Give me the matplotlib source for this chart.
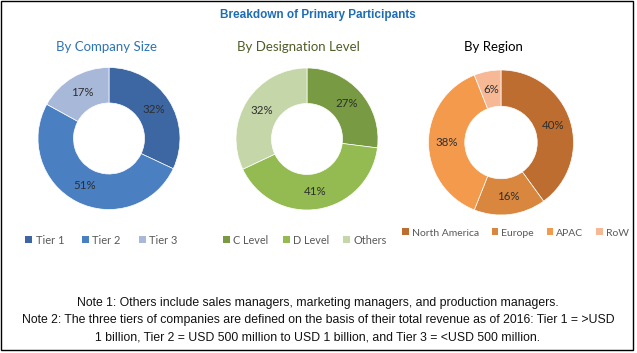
import matplotlib
matplotlib.use("Agg")
import matplotlib.pyplot as plt
from matplotlib import font_manager
from matplotlib.patches import Rectangle, Patch

# ---- data ----
title = "Breakdown of Primary Participants"
size_labels = ["Tier 1", "Tier 2", "Tier 3"]
size_values = [32, 51, 17]
desig_labels = ["C Level", "D Level", "Others"]
desig_values = [27, 41, 32]
region_labels = ["North America", "Europe", "APAC", "RoW"]
region_values = [40, 16, 38, 6]
notes = [
    "Note 1: Others include sales managers, marketing managers, and production managers.",
    "Note 2: The three tiers of companies are defined on the basis of their total revenue as of 2016: Tier 1 = >USD",
    "1 billion, Tier 2 = USD 500 million to USD 1 billion, and Tier 3 = <USD 500 million.",
]

size_colors = ["#3D67A3", "#4A7FC1", "#A8B8D9"]
desig_colors = ["#779A43", "#93BB52", "#C5D6A9"]
region_colors = ["#BD6D2F", "#D9873E", "#F49A4C", "#F7B896"]

names = {f.name for f in font_manager.fontManager.ttflist}
narrow = "Liberation Sans Narrow" if "Liberation Sans Narrow" in names else "Liberation Sans"
soft = "Lato" if "Lato" in names else "DejaVu Sans"

W, H = 637, 353
fig = plt.figure(figsize=(W / 100, H / 100), dpi=100)
fig.patch.set_facecolor("white")

def px_axes(cx, cy, r):
    return fig.add_axes([(cx - r) / W, (H - cy - r) / H, 2 * r / W, 2 * r / H])

def donut(cx, cy, r, values, colors):
    ax = px_axes(cx, cy, r)
    ax.pie(
        values, colors=colors, startangle=90, counterclock=False,
        radius=1.0, wedgeprops=dict(width=0.5, edgecolor="white", linewidth=0.5),
        autopct=lambda p: f"{p:.0f}%", pctdistance=0.75,
        textprops=dict(fontsize=8.3, color="#2e2e2e", family=soft))
    ax.set_xlim(-1, 1)
    ax.set_ylim(-1, 1)
    ax.set_aspect("equal")
    ax.axis("off")
    return ax

donut(109, 138.5, 71, size_values, size_colors)
donut(307, 139, 71, desig_values, desig_colors)
donut(501, 142.5, 72.5, region_values, region_colors)

# titles
fig.text(318 / W, 1 - 15 / H, title, ha="center", va="center", fontsize=8.5,
         fontweight="bold", color="#1F6DB4", family=narrow)
fig.text(106 / W, 1 - 47 / H, "By Company Size", ha="center", va="center",
         fontsize=9.5, color="#2E74B5", family=soft)
fig.text(298 / W, 1 - 47 / H, "By Designation Level", ha="center", va="center",
         fontsize=9.5, color="#4F5E26", family=soft)
fig.text(493 / W, 1 - 47 / H, "By Region", ha="center", va="center",
         fontsize=9.5, color="#000000", family=soft)

def legend(labels, colors, x0, y, spacing, size):
    handles = [Patch(facecolor=c, edgecolor="none") for c in colors]
    fig.legend(handles, labels, loc="center left", bbox_to_anchor=(x0 / W, 1 - y / H),
               ncol=len(labels), frameon=False, handlelength=0.65, handleheight=0.65,
               handletextpad=0.3, columnspacing=spacing, borderpad=0, borderaxespad=0,
               prop=dict(family=soft, size=size), labelcolor="#595959")

legend(size_labels, size_colors, 25, 240, 1.6, 8)
legend(desig_labels, desig_colors, 223, 240, 1.3, 7.8)
legend(region_labels, region_colors, 402, 233, 1.2, 7.5)

for line, y in zip(notes, [303, 320, 337]):
    fig.text(318 / W, 1 - y / H, line, ha="center", va="center", fontsize=8.8,
             color="#111111", family=narrow)

fig.add_artist(Rectangle((1 / W, 1 - 350 / H), 632 / W, 349 / H, transform=fig.transFigure,
                         fill=False, edgecolor="black", linewidth=1.0))

fig.savefig("out.png", dpi=100)
